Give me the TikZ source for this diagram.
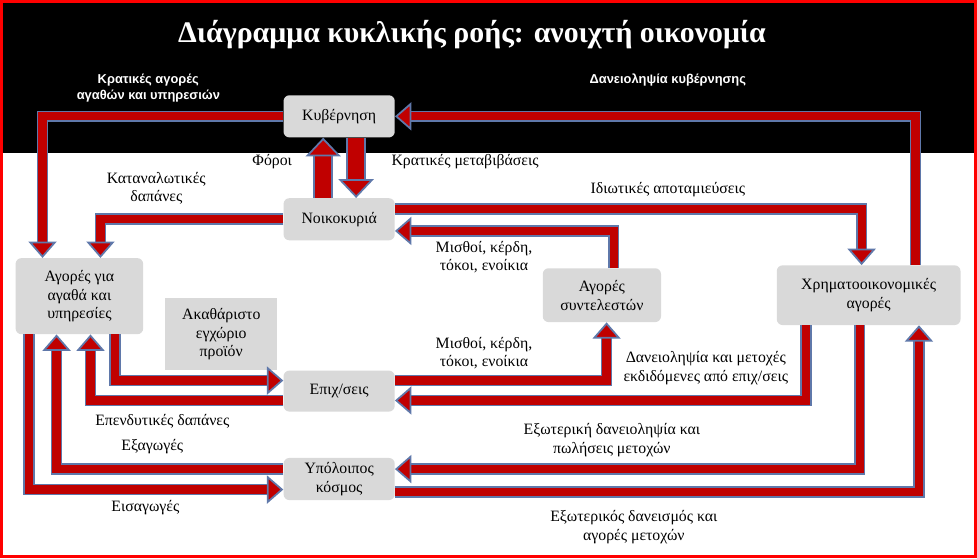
\documentclass[tikz,border=0pt]{standalone}
\usepackage{fontspec}
\setmainfont{Liberation Serif}
\setsansfont{Liberation Sans}
\usetikzlibrary{arrows.meta}
\definecolor{flowred}{HTML}{C00000}
\definecolor{flowblue}{RGB}{95,120,170}
\definecolor{boxgray}{HTML}{D9D9D9}
\tikzset{
  box/.style={fill=boxgray, rounded corners=5pt, align=center, inner sep=2pt,
    minimum width=95pt, minimum height=36pt, font=\fontsize{13.5}{16}\selectfont},
  flow/.style={draw=flowblue, line width=1.5pt, double=flowred, double distance=7pt,
    -{Triangle[width=24pt,length=14pt,fill=flowred,line width=1.5pt]}},
  bigflow/.style={flow, double distance=14pt,
    -{Triangle[width=30pt,length=16pt,fill=flowred,line width=1.5pt]}},
  lbl/.style={align=center, font=\fontsize{13.5}{16}\selectfont},
  toplbl/.style={align=center, text=white, font=\sffamily\bfseries\fontsize{11}{14}\selectfont}
}
\begin{document}
\begin{tikzpicture}[x=0.03cm, y=-0.03cm]
% background
\fill[white] (0,0) rectangle (977,558);
\fill[black] (0,0) rectangle (977,153);
\draw[red, line width=2.5pt] (1,1) rectangle (976,557);
\node[text=white, font=\bfseries\fontsize{25.5}{30}\selectfont] (title) at (472,34) {Διάγραμμα κυκλικής ροής: ανοιχτή οικονομία};

% sectors
\node[box] (gov) at (339,116) {Κυβέρνηση};
\node[box] (hh) at (339,219) {Νοικοκυριά};
\node[box, minimum width=109pt, minimum height=65pt] (goods) at (79,296) {Αγορές για\\αγαθά και\\υπηρεσίες};
\node[box, rounded corners=0pt, minimum width=96pt, minimum height=61pt] (gdp) at (221,334) {Ακαθάριστο\\εγχώριο\\προϊόν};
\node[box, minimum width=101pt, minimum height=46pt] (fac) at (602,295) {Αγορές\\συντελεστών};
\node[box, minimum width=157pt, minimum height=51pt] (fin) at (869,295) {Χρηματοοικονομικές\\αγορές};
\node[box, minimum height=35pt] (firms) at (339,391) {Επιχ/σεις};
\node[box] (world) at (339,479) {Υπόλοιπος\\κόσμος};

% flows
\draw[flow] (gov.west) -| ([xshift=-31.5pt]goods.north);
\draw[flow] ([xshift=40pt]fin.north) |- (gov.east);
\draw[bigflow] ([xshift=-13.6pt]hh.north) -- ([xshift=-13.6pt]gov.south);
\draw[bigflow] ([xshift=14.5pt]gov.south) -- ([xshift=14.5pt]hh.north);
\draw[flow] (hh.west) -| ([xshift=18pt]goods.north);
\draw[flow] ([yshift=9pt]hh.east) -| ([xshift=-6pt]fin.north);
\draw[flow] ([xshift=10pt]fac.north) |- ([yshift=-10pt]hh.east);
\draw[flow] ([yshift=9pt]firms.east) -| ([xshift=4pt]fac.south);
\draw[flow] ([xshift=-53.5pt]fin.south) |- ([yshift=-8pt]firms.east);
\draw[flow] ([xshift=30.6pt]goods.south) |- ([yshift=9pt]firms.west);
\draw[flow] ([yshift=-8pt]firms.west) -| ([xshift=9.5pt]goods.south);
\draw[flow] ([yshift=8.5pt]world.west) -| ([xshift=-19.5pt]goods.south);
\draw[flow] ([xshift=-43pt]goods.south) |- ([yshift=-9pt]world.west);
\draw[flow] ([xshift=-7.7pt]fin.south) |- ([yshift=8.5pt]world.east);
\draw[flow] ([yshift=-11pt]world.east) -| ([xshift=43pt]fin.south);

% labels
\node[toplbl] (l1) at (148,88) {Κρατικές αγορές\\αγαθών και υπηρεσιών};
\node[toplbl] (l2) at (668,80) {Δανειοληψία κυβέρνησης};
\node[lbl] (l3) at (272,161) {Φόροι};
\node[lbl] (l4) at (465,161) {Κρατικές μεταβιβάσεις};
\node[lbl] (l5) at (156,188) {Καταναλωτικές\\δαπάνες};
\node[lbl] (l6) at (668,189) {Ιδιωτικές αποταμιεύσεις};
\node[lbl] (l7) at (484,257) {Μισθοί, κέρδη,\\τόκοι, ενοίκια};
\node[lbl] (l8) at (484,353) {Μισθοί, κέρδη,\\τόκοι, ενοίκια};
\node[lbl] (l9) at (706,368) {Δανειοληψία και μετοχές\\εκδιδόμενες από επιχ/σεις};
\node[lbl] (l10) at (162,421) {Επενδυτικές δαπάνες};
\node[lbl] (l11) at (152,447) {Εξαγωγές};
\node[lbl] (l12) at (145,508) {Εισαγωγές};
\node[lbl] (l13) at (612,440) {Εξωτερική δανειοληψία και\\πωλήσεις μετοχών};
\node[lbl] (l14) at (634,527) {Εξωτερικός δανεισμός και\\αγορές μετοχών};
\end{tikzpicture}
\end{document}
